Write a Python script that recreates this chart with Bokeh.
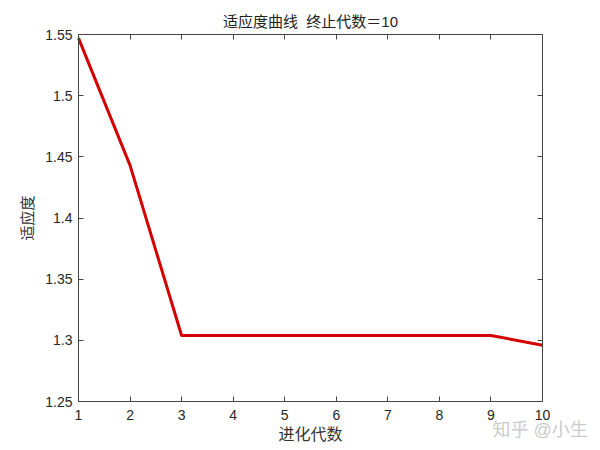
from bokeh.plotting import figure
from bokeh.models import LinearAxis, Range1d, Label, FixedTicker
from bokeh.embed import file_html
from bokeh.resources import INLINE

generations = [1, 2, 3, 4, 5, 6, 7, 8, 9, 10]
fitness = [1.547, 1.443, 1.304, 1.304, 1.304, 1.304, 1.304, 1.304, 1.304, 1.296]
x_ticks = [1, 2, 3, 4, 5, 6, 7, 8, 9, 10]
y_ticks = [1.25, 1.3, 1.35, 1.4, 1.45, 1.5, 1.55]
y_labels = ["1.25", "1.3", "1.35", "1.4", "1.45", "1.5", "1.55"]
x_lo, x_hi = 1, 10
y_lo, y_hi = 1.25, 1.55
title_text = "适应度曲线\u00a0\u00a0终止代数＝10"
x_title = "进化代数"
y_title = "适应度"
watermark = "知乎 @小生"

FONT = "Liberation Sans, Noto Sans CJK SC"
AX = "#444444"

# layout (pixels): the frame covers the whole canvas, the axes box sits inside it
W, H = 592, 442
BOX_L, BOX_R, BOX_T, BOX_B = 78, 542, 34, 401
sx = (x_hi - x_lo) / (BOX_R - BOX_L)
sy = (y_hi - y_lo) / (BOX_B - BOX_T)

p = figure(width=W, height=H, output_backend="svg", toolbar_location=None,
           x_range=Range1d(x_lo - BOX_L * sx, x_hi + (W - BOX_R) * sx),
           y_range=Range1d(y_lo - (H - BOX_B) * sy, y_hi + BOX_T * sy),
           x_axis_location=None, y_axis_location=None,
           min_border=0, min_border_left=0, min_border_right=0,
           min_border_top=0, min_border_bottom=0)
p.grid.visible = False
p.outline_line_color = None

p.line(generations, fitness, line_color="#d40000", line_width=3)

bottom = LinearAxis(ticker=FixedTicker(ticks=x_ticks), axis_label=x_title,
                    fixed_location=y_lo, bounds=(x_lo, x_hi))
top = LinearAxis(ticker=FixedTicker(ticks=x_ticks), fixed_location=y_hi, bounds=(x_lo, x_hi),
                 major_label_overrides={t: "" for t in x_ticks})
left = LinearAxis(ticker=FixedTicker(ticks=y_ticks), axis_label=y_title,
                  fixed_location=x_lo, bounds=(y_lo, y_hi),
                  major_label_overrides={t: s for t, s in zip(y_ticks, y_labels)})
right = LinearAxis(ticker=FixedTicker(ticks=y_ticks), fixed_location=x_hi, bounds=(y_lo, y_hi),
                   major_label_overrides={t: "" for t in y_ticks})
p.add_layout(bottom, "below")
p.add_layout(left, "left")
p.add_layout(top, "above")
p.add_layout(right, "right")

for ax in [bottom, left, top, right]:
    ax.axis_line_color = AX
    ax.major_tick_line_color = AX
    ax.major_tick_in = 5
    ax.major_tick_out = 0
    ax.minor_tick_line_color = None
    ax.major_label_text_font = FONT
    ax.axis_label_text_font = FONT
    ax.axis_label_text_font_style = "normal"
    ax.axis_label_text_color = "#333333"
    ax.major_label_text_color = "#262626"
    ax.major_label_text_font_size = "14px"
    ax.axis_label_text_font_size = "15px"
    ax.major_label_standoff = 6
    ax.axis_label_standoff = 4
    ax.axis_line_width = 1

top.major_label_standoff = 0
right.major_label_standoff = 0
left.axis_label_standoff = 6
bottom.major_label_standoff = 8
bottom.axis_label_standoff = 3
bottom.axis_label_text_font_size = "16px"

title = Label(x=(x_lo + x_hi) / 2, y=y_hi + 13 * sy, text=title_text,
              text_align="center", text_baseline="middle",
              text_font=FONT, text_font_size="15px", text_color="#222222")
p.add_layout(title)

wm = Label(x=x_lo + (492 - BOX_L) * sx, y=y_lo - 28 * sy, text=watermark,
           text_baseline="middle", level="overlay",
           text_font=FONT, text_font_size="18px", text_color="#c4c4c4", text_alpha=0.9)
p.add_layout(wm)

open("out.html", "w").write(file_html(p, INLINE))
